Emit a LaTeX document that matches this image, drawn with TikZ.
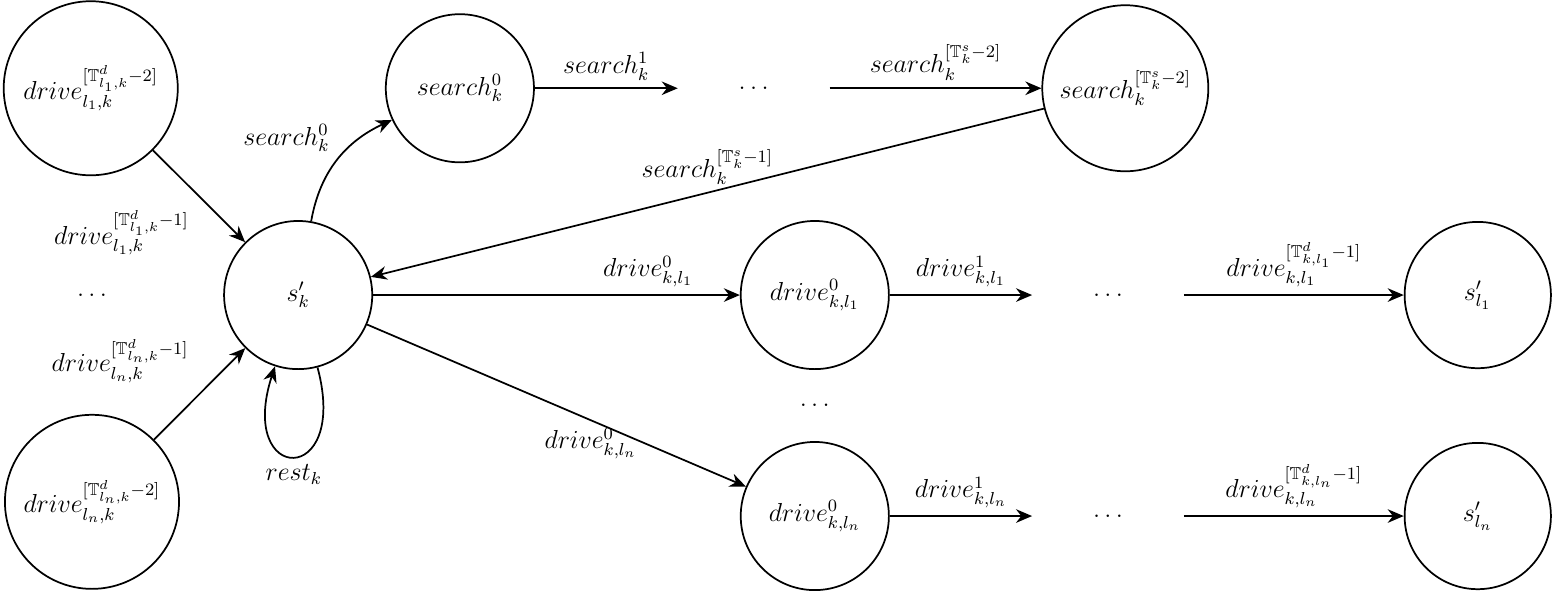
\documentclass[tikz,border=0pt]{standalone}
\usepackage{amssymb}
\usetikzlibrary{arrows.meta,positioning}
\begin{document}
\begin{tikzpicture}[x=1cm,y=1cm,
    every node/.style={font=\large},
    state/.style={circle, draw, thick, minimum size=2.4cm, inner sep=0pt},
    bigstate/.style={state, minimum size=2.82cm},
    gap/.style={minimum width=2.46cm, inner sep=0pt, outer sep=0pt},
    trans/.style={thick, -{Stealth[length=2.6mm,width=2.2mm]}}]
    \useasboundingbox (0,0) rectangle (25.24,9.59);
    \node[bigstate] (dl1) at (1.47,8.16) {$drive^{[\mathbb{T}^d_{l_1,k}-2]}_{l_1,k}$};
    \node[bigstate] (dln) at (1.49,1.46) {$drive^{[\mathbb{T}^d_{l_n,k}-2]}_{l_n,k}$};
    \node (ldots) at (1.49,4.81) {$\dots$};
    \node[state] (sk) at (4.83,4.81) {$s'_k$};
    \node[state] (s0) at (7.45,8.16) {$search^0_k$};
    \node[gap] (sdots) at (12.21,8.16) {$\dots$};
    \node[state, minimum size=2.69cm] (sT) at (18.23,8.16) {$search^{[\mathbb{T}^s_k-2]}_k$};
    \node[state] (d1) at (13.20,4.81) {$drive^0_{k,l_1}$};
    \node[gap] (d1dots) at (17.95,4.81) {$\dots$};
    \node[state, minimum size=2.37cm] (sl1) at (23.94,4.81) {$s'_{l_1}$};
    \node (mdots) at (13.20,3.03) {$\dots$};
    \node[state] (dn) at (13.20,1.23) {$drive^0_{k,l_n}$};
    \node[gap] (dndots) at (17.95,1.23) {$\dots$};
    \node[state, minimum size=2.37cm] (sln) at (23.94,1.23) {$s'_{l_n}$};

    \draw[trans] (dl1) -- node[pos=0.9, left=0.63cm] {$drive^{[\mathbb{T}^d_{l_1,k}-1]}_{l_1,k}$} (sk);
    \draw[trans] (dln) -- node[pos=0.86, left=0.58cm] {$drive^{[\mathbb{T}^d_{l_n,k}-1]}_{l_n,k}$} (sk);
    \draw[trans] (sk) to[out=-75, in=-108, looseness=7.5] node[below] {$rest_k$} (sk);
    \draw[trans] (sk) to[out=80, in=205] node[pos=0.5, above left] {$search^0_k$} (s0);
    \draw[trans] (s0) -- node[above] {$search^1_k$} (sdots);
    \draw[trans] (sdots) -- node[above] {$search^{[\mathbb{T}^s_k-2]}_k$} (sT);
    \draw[trans] (sT) -- node[above] {$search^{[\mathbb{T}^s_k-1]}_k$} (sk);
    \draw[trans] (sk) -- node[pos=0.75, above] {$drive^0_{k,l_1}$} (d1);
    \draw[trans] (d1) -- node[above] {$drive^1_{k,l_1}$} (d1dots);
    \draw[trans] (d1dots) -- node[above] {$drive^{[\mathbb{T}^d_{k,l_1}-1]}_{k,l_1}$} (sl1);
    \draw[trans] (sk) -- node[pos=0.59, below] {$drive^0_{k,l_n}$} (dn);
    \draw[trans] (dn) -- node[above] {$drive^1_{k,l_n}$} (dndots);
    \draw[trans] (dndots) -- node[above] {$drive^{[\mathbb{T}^d_{k,l_n}-1]}_{k,l_n}$} (sln);
  \end{tikzpicture}
\end{document}
